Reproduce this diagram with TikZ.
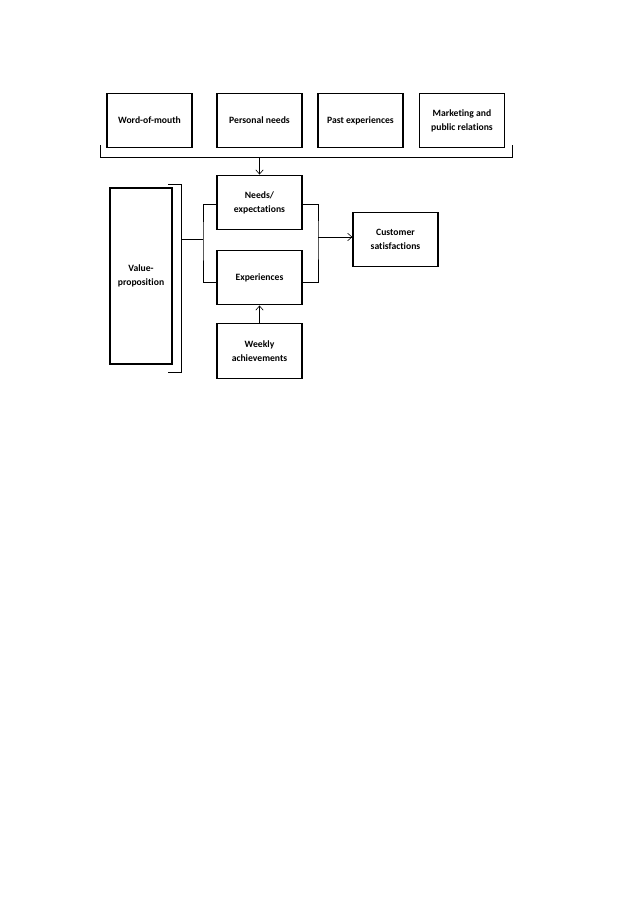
\documentclass[tikz,border=0pt]{standalone}
\usepackage{fontspec}
\setmainfont{Carlito}[Ligatures=NoCommon]
\usetikzlibrary{arrows.meta}
\begin{document}
\begin{tikzpicture}[x=0.9331pt,y=-0.9331pt,
        box/.style={draw,line width=1.2pt,minimum width=79.3pt,minimum height=51pt,
            align=center,font=\fontsize{9}{13}\selectfont\bfseries,inner sep=1pt},
        link/.style={draw,line width=0.55pt},
        tip/.style={-{Straight Barb[length=4pt,width=7pt]}}]
        \useasboundingbox (0,0) rectangle (638,902);
        % sources
        \node[box] (wom) at (149.5,120.5) {Word-of-mouth};
        \node[box] (pers) at (259.5,120.5) {Personal needs};
        \node[box] (past) at (360.5,120.5) {Past experiences};
        \node[box] (mkt) at (462,120.5) {Marketing and\\public relations};
        % middle column
        \node[box] (needs) at (259.5,202.5) {Needs/\\expectations};
        \node[box] (exp) at (259.5,277.5) {Experiences};
        \node[box] (week) at (259.5,351) {Weekly\\achievements};
        \node[box,minimum width=57.8pt,minimum height=164pt] (val) at (141,276) {Value-\\proposition};
        \node[box] (cust) at (395.5,239.5) {Customer\\satisfactions};
        % brackets
        \coordinate (tl) at (100,145);
        \coordinate (tr) at (512,145);
        \coordinate (tm) at (259.5,157);
        \draw[link] (tl) |- (tr |- tm) -- (tr);
        \draw[link,tip] (tm) -- (needs.north);
        \coordinate (vt) at (168,184);
        \coordinate (vb) at (168,372);
        \coordinate (vm) at (181,239);
        \draw[link] (vt) -| (vm |- vb) -- (vb);
        \coordinate (jl) at (203,239);
        \draw[link] (vm) -- (jl);
        \draw[link] ([yshift=-1.5pt]needs.west) -| (jl) |- ([yshift=-4.8pt]exp.west);
        \coordinate (jr) at (318,237);
        \draw[link] ([yshift=-1.5pt]needs.east) -| (jr) |- ([yshift=-4.8pt]exp.east);
        \draw[link,tip] (jr) -- (cust.west |- jr);
        \draw[link,tip] (week.north) -- (exp.south);
    \end{tikzpicture}
\end{document}
